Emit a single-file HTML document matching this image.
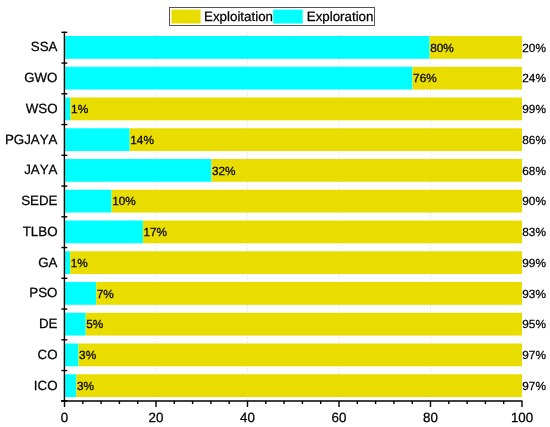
<!DOCTYPE html>
<html><head><meta charset="utf-8"><title>Exploration vs Exploitation</title>
<style>
html,body{margin:0;padding:0;background:#fff;}
body{width:550px;height:427px;overflow:hidden;}
svg{display:block;}
text{font-family:"Liberation Sans",Arial,Helvetica,sans-serif;fill:#000;font-kerning:none;text-rendering:geometricPrecision;stroke:#000;stroke-width:0.25px;}
</style></head><body>
<svg width="550" height="427" viewBox="0 0 550 427">
<rect x="0" y="0" width="550" height="427" fill="#fff"/>
<g stroke="#d8d8d8" stroke-width="1" stroke-dasharray="1,2">
<line x1="156.00" y1="32.30" x2="156.00" y2="401.00"/>
<line x1="247.50" y1="32.30" x2="247.50" y2="401.00"/>
<line x1="339.00" y1="32.30" x2="339.00" y2="401.00"/>
<line x1="430.50" y1="32.30" x2="430.50" y2="401.00"/>
</g>
<rect x="65.00" y="36.00" width="364.60" height="22.80" fill="#00ffff"/><rect x="429.60" y="36.00" width="92.40" height="22.80" fill="#e9dd00"/>
<rect x="65.00" y="66.75" width="347.50" height="22.80" fill="#00ffff"/><rect x="412.50" y="66.75" width="109.50" height="22.80" fill="#e9dd00"/>
<rect x="65.00" y="97.50" width="5.50" height="22.80" fill="#00ffff"/><rect x="70.50" y="97.50" width="451.50" height="22.80" fill="#e9dd00"/>
<rect x="65.00" y="128.25" width="64.70" height="22.80" fill="#00ffff"/><rect x="129.70" y="128.25" width="392.30" height="22.80" fill="#e9dd00"/>
<rect x="65.00" y="159.00" width="146.40" height="22.80" fill="#00ffff"/><rect x="211.40" y="159.00" width="310.60" height="22.80" fill="#e9dd00"/>
<rect x="65.00" y="189.75" width="46.60" height="22.80" fill="#00ffff"/><rect x="111.60" y="189.75" width="410.40" height="22.80" fill="#e9dd00"/>
<rect x="65.00" y="220.50" width="77.90" height="22.80" fill="#00ffff"/><rect x="142.90" y="220.50" width="379.10" height="22.80" fill="#e9dd00"/>
<rect x="65.00" y="251.25" width="5.20" height="22.80" fill="#00ffff"/><rect x="70.20" y="251.25" width="451.80" height="22.80" fill="#e9dd00"/>
<rect x="65.00" y="282.00" width="31.20" height="22.80" fill="#00ffff"/><rect x="96.20" y="282.00" width="425.80" height="22.80" fill="#e9dd00"/>
<rect x="65.00" y="312.75" width="20.70" height="22.80" fill="#00ffff"/><rect x="85.70" y="312.75" width="436.30" height="22.80" fill="#e9dd00"/>
<rect x="65.00" y="343.50" width="13.50" height="22.80" fill="#00ffff"/><rect x="78.50" y="343.50" width="443.50" height="22.80" fill="#e9dd00"/>
<rect x="65.00" y="374.25" width="11.30" height="22.80" fill="#00ffff"/><rect x="76.30" y="374.25" width="445.70" height="22.80" fill="#e9dd00"/>
<g font-size="11.8">
<text x="430.20" y="51.52">80%</text><text x="522.30" y="51.52">20%</text>
<text x="413.10" y="82.27">76%</text><text x="522.30" y="82.27">24%</text>
<text x="71.10" y="113.02">1%</text><text x="522.30" y="113.02">99%</text>
<text x="130.30" y="143.78">14%</text><text x="522.30" y="143.78">86%</text>
<text x="212.00" y="174.53">32%</text><text x="522.30" y="174.53">68%</text>
<text x="112.20" y="205.28">10%</text><text x="522.30" y="205.28">90%</text>
<text x="143.50" y="236.03">17%</text><text x="522.30" y="236.03">83%</text>
<text x="70.80" y="266.78">1%</text><text x="522.30" y="266.78">99%</text>
<text x="96.80" y="297.53">7%</text><text x="522.30" y="297.53">93%</text>
<text x="86.30" y="328.28">5%</text><text x="522.30" y="328.28">95%</text>
<text x="79.10" y="359.03">3%</text><text x="522.30" y="359.03">97%</text>
<text x="76.90" y="389.78">3%</text><text x="522.30" y="389.78">97%</text>
</g>
<g font-size="13.33" text-anchor="end">
<text x="57.50" y="51.38">SSA</text>
<text x="57.50" y="82.12">GWO</text>
<text x="57.50" y="112.88">WSO</text>
<text x="57.50" y="143.62">PGJAYA</text>
<text x="57.50" y="174.38">JAYA</text>
<text x="57.50" y="205.12">SEDE</text>
<text x="57.50" y="235.88">TLBO</text>
<text x="57.50" y="266.62">GA</text>
<text x="57.50" y="297.38">PSO</text>
<text x="57.50" y="328.12">DE</text>
<text x="57.50" y="358.88">CO</text>
<text x="57.50" y="389.62">ICO</text>
</g>
<g font-size="13.33" text-anchor="middle">
<text x="64.50" y="421.60">0</text>
<text x="156.00" y="421.60">20</text>
<text x="247.50" y="421.60">40</text>
<text x="339.00" y="421.60">60</text>
<text x="430.50" y="421.60">80</text>
<text x="522.00" y="421.60">100</text>
</g>
<g stroke="#000" stroke-width="1.4" fill="none">
<line x1="64.40" y1="31.80" x2="64.40" y2="401.70"/>
<line x1="61" y1="401.00" x2="522.50" y2="401.00"/>
<line x1="61.4" y1="32.30" x2="67.3" y2="32.30"/><line x1="61.4" y1="63.05" x2="67.3" y2="63.05"/><line x1="61.4" y1="93.80" x2="67.3" y2="93.80"/><line x1="61.4" y1="124.55" x2="67.3" y2="124.55"/><line x1="61.4" y1="155.30" x2="67.3" y2="155.30"/><line x1="61.4" y1="186.05" x2="67.3" y2="186.05"/><line x1="61.4" y1="216.80" x2="67.3" y2="216.80"/><line x1="61.4" y1="247.55" x2="67.3" y2="247.55"/><line x1="61.4" y1="278.30" x2="67.3" y2="278.30"/><line x1="61.4" y1="309.05" x2="67.3" y2="309.05"/><line x1="61.4" y1="339.80" x2="67.3" y2="339.80"/><line x1="61.4" y1="370.55" x2="67.3" y2="370.55"/><line x1="61.4" y1="401.00" x2="67.3" y2="401.00"/>
<line x1="64.50" y1="401.00" x2="64.50" y2="407"/><line x1="156.00" y1="401.00" x2="156.00" y2="407"/><line x1="247.50" y1="401.00" x2="247.50" y2="407"/><line x1="339.00" y1="401.00" x2="339.00" y2="407"/><line x1="430.50" y1="401.00" x2="430.50" y2="407"/><line x1="522.00" y1="401.00" x2="522.00" y2="407"/>
<line x1="82.80" y1="401.00" x2="82.80" y2="404"/><line x1="101.10" y1="401.00" x2="101.10" y2="404"/><line x1="119.40" y1="401.00" x2="119.40" y2="404"/><line x1="137.70" y1="401.00" x2="137.70" y2="404"/><line x1="174.30" y1="401.00" x2="174.30" y2="404"/><line x1="192.60" y1="401.00" x2="192.60" y2="404"/><line x1="210.90" y1="401.00" x2="210.90" y2="404"/><line x1="229.20" y1="401.00" x2="229.20" y2="404"/><line x1="265.80" y1="401.00" x2="265.80" y2="404"/><line x1="284.10" y1="401.00" x2="284.10" y2="404"/><line x1="302.40" y1="401.00" x2="302.40" y2="404"/><line x1="320.70" y1="401.00" x2="320.70" y2="404"/><line x1="357.30" y1="401.00" x2="357.30" y2="404"/><line x1="375.60" y1="401.00" x2="375.60" y2="404"/><line x1="393.90" y1="401.00" x2="393.90" y2="404"/><line x1="412.20" y1="401.00" x2="412.20" y2="404"/><line x1="448.80" y1="401.00" x2="448.80" y2="404"/><line x1="467.10" y1="401.00" x2="467.10" y2="404"/><line x1="485.40" y1="401.00" x2="485.40" y2="404"/><line x1="503.70" y1="401.00" x2="503.70" y2="404"/>
</g>
<rect x="169.5" y="7.5" width="205" height="18" fill="#fff" stroke="#555" stroke-width="1"/>
<rect x="171.5" y="9.6" width="29.1" height="13.9" fill="#e9dd00"/>
<rect x="273.2" y="9.6" width="29.5" height="13.9" fill="#00ffff"/>
<text x="204.05" y="20.8" font-size="13.33">Exploitation</text>
<text x="306.75" y="20.8" font-size="13.33">Exploration</text>
</svg>
</body></html>
